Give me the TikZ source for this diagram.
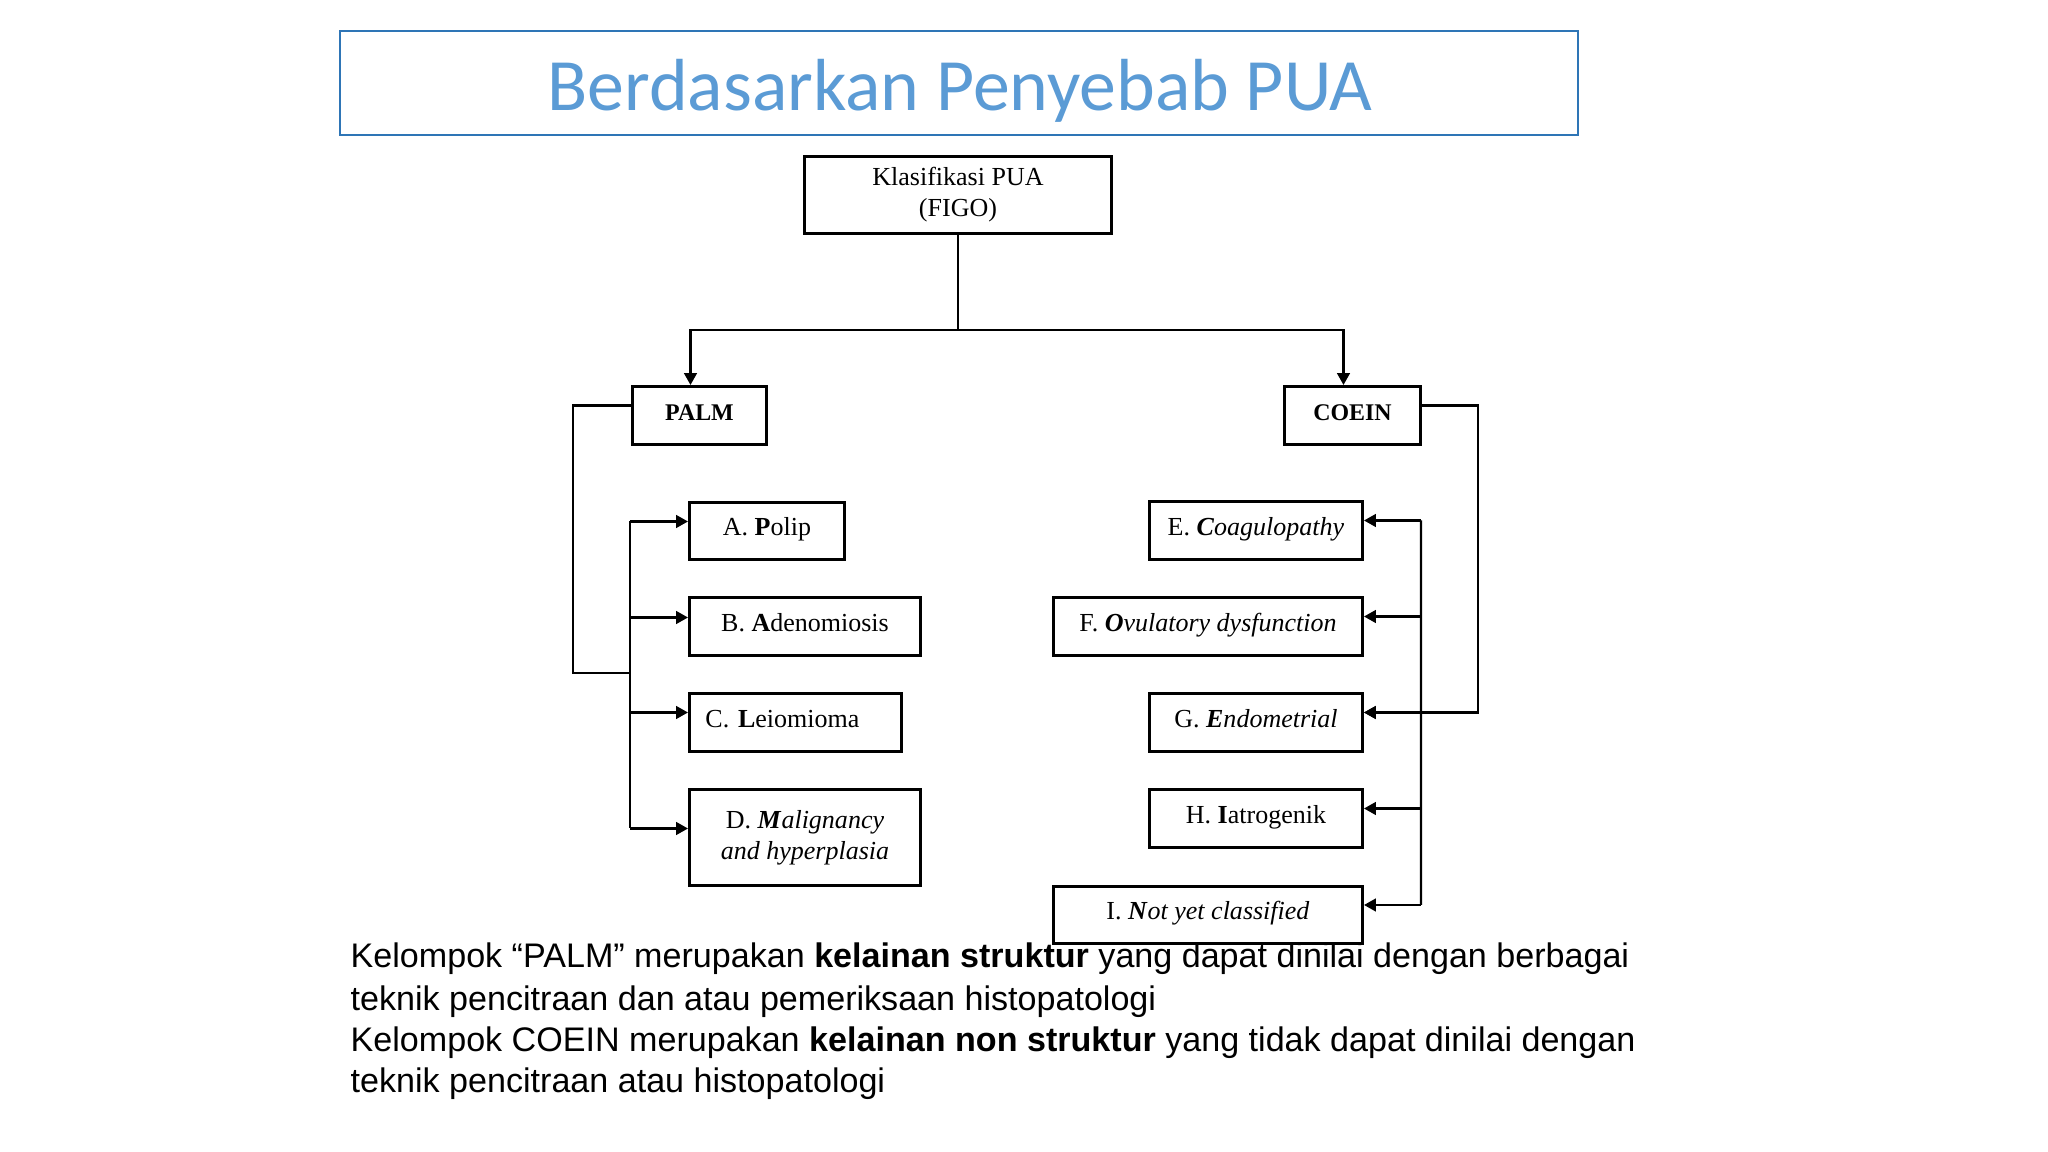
\documentclass[tikz,border=0pt]{standalone}
\usepackage{fontspec}
\newfontfamily\headfont{Carlito}
\newfontfamily\notefont{Liberation Sans}
\newfontfamily\diagserif{Liberation Serif}
\usetikzlibrary{arrows.meta}
\definecolor{titleblue}{RGB}{91,155,213}
\definecolor{frameblue}{RGB}{46,117,182}
\newcommand{\diagfont}{\diagserif\fontsize{7.4}{8.8}\selectfont}

\begin{document}
\begin{tikzpicture}[
    box/.style={draw, line width=0.85pt, inner sep=0pt, align=center, font=\diagfont, anchor=north west},
    oneline/.style={text height=5.2pt, text depth=2.6pt},
    link/.style={line width=0.7pt},
    arr/.style={link, -{Triangle[length=3.4pt, width=3.6pt]}},
    note/.style={anchor=base west, inner sep=0pt, font=\notefont\fontsize{9.7}{11.8}\selectfont}
  ]
  \useasboundingbox (0,0) rectangle (20.48,-11.52);

  % Title
  \node[draw=frameblue, line width=0.5pt, minimum width=12.38cm, minimum height=1.04cm] (titlebox) at (9.59,-0.83) {};
  \node[anchor=base, inner sep=0pt, text=titleblue, font=\headfont\fontsize{21}{25}\selectfont] (title) at (9.60,-1.11) {Berdasarkan Penyebab PUA};

  % Root and the two groups
  \node[box, minimum width=3.07cm, minimum height=0.77cm] (figo) at (8.03,-1.55) {Klasifikasi PUA\\(FIGO)};
  \node[box, oneline, minimum width=1.34cm, minimum height=0.58cm, font=\diagserif\fontsize{6.8}{8.8}\selectfont\bfseries] (palm) at (6.31,-3.85) {PALM};
  \node[box, oneline, minimum width=1.36cm, minimum height=0.58cm, font=\diagserif\fontsize{6.8}{8.8}\selectfont\bfseries] (coein) at (12.83,-3.85) {COEIN};

  \draw[link] (figo.south) -- ++(0,-0.95) coordinate (fork);
  \draw[arr] (fork) -| ([xshift=-0.09cm]palm.north);
  \draw[arr] (fork) -| ([xshift=-0.09cm]coein.north);

  % PALM: structural causes
  \node[box, oneline, minimum width=1.55cm, minimum height=0.57cm] (polip) at (6.88,-5.01) {A. \textbf{P}olip};
  \node[box, oneline, minimum width=2.31cm, minimum height=0.58cm] (adeno) at (6.88,-5.96) {B. \textbf{A}denomiosis};
  \node[box, oneline, minimum width=2.12cm, minimum height=0.58cm, inner xsep=0.16cm, text width=1.80cm, align=left] (leio) at (6.88,-6.92) {C. \textbf{L}eiomioma};
  \node[box, minimum width=2.31cm, minimum height=0.96cm] (malig) at (6.88,-7.88) {D. \textbf{\textit{M}}\textit{alignancy}\\\textit{and hyperplasia}};

  \coordinate (palmbus) at (6.30,-6.73);
  \draw[link] ([yshift=0.1cm]palm.west) -- ++(-0.58,0) |- (palmbus);
  \draw[link] ([shift={(-0.58,0.095)}]polip.west) -- ([shift={(-0.58,0.09)}]malig.west);
  \foreach \b/\dy in {polip/0.095, adeno/0.09, leio/0.1, malig/0.09}
    \draw[arr] ([yshift=\dy cm]\b.west) ++(-0.58,0) -- ++(0.58,0);

  % COEIN: non structural causes
  \node[box, oneline, minimum width=2.13cm, minimum height=0.58cm] (coag) at (11.48,-5.00) {E. \textbf{\textit{C}}\textit{oagulopathy}};
  \node[box, oneline, minimum width=3.09cm, minimum height=0.58cm] (ovul) at (10.52,-5.96) {F. \textbf{\textit{O}}\textit{vulatory dysfunction}};
  \node[box, oneline, minimum width=2.13cm, minimum height=0.58cm] (endo) at (11.48,-6.92) {G. \textbf{\textit{E}}\textit{ndometrial}};
  \node[box, oneline, minimum width=2.13cm, minimum height=0.58cm] (iatro) at (11.48,-7.88) {H. \textbf{I}atrogenik};
  \node[box, oneline, minimum width=3.09cm, minimum height=0.57cm] (notyet) at (10.52,-8.85) {I. \textbf{\textit{N}}\textit{ot yet classified}};

  \draw[arr] ([yshift=0.1cm]coein.east) -- ++(0.56,0) |- ([yshift=0.1cm]endo.east);
  \draw[link] ([shift={(0.57,0.1)}]coag.east) -- ([shift={(0.57,0.1)}]notyet.east);
  \foreach \b in {coag,ovul,endo,iatro,notyet}
    \draw[arr] ([shift={(0.57,0.1)}]\b.east) -- ([yshift=0.1cm]\b.east);

  % Notes
  \node[note] (note1) at (3.50,-9.67) {Kelompok “PALM” merupakan \textbf{kelainan struktur} yang dapat dinilai dengan berbagai};
  \node[note] (note2) at (3.50,-10.10) {teknik pencitraan dan atau pemeriksaan histopatologi};
  \node[note] (note3) at (3.50,-10.51) {Kelompok COEIN merupakan \textbf{kelainan non struktur} yang tidak dapat dinilai dengan};
  \node[note] (note4) at (3.50,-10.92) {teknik pencitraan atau histopatologi};
\end{tikzpicture}
\end{document}
